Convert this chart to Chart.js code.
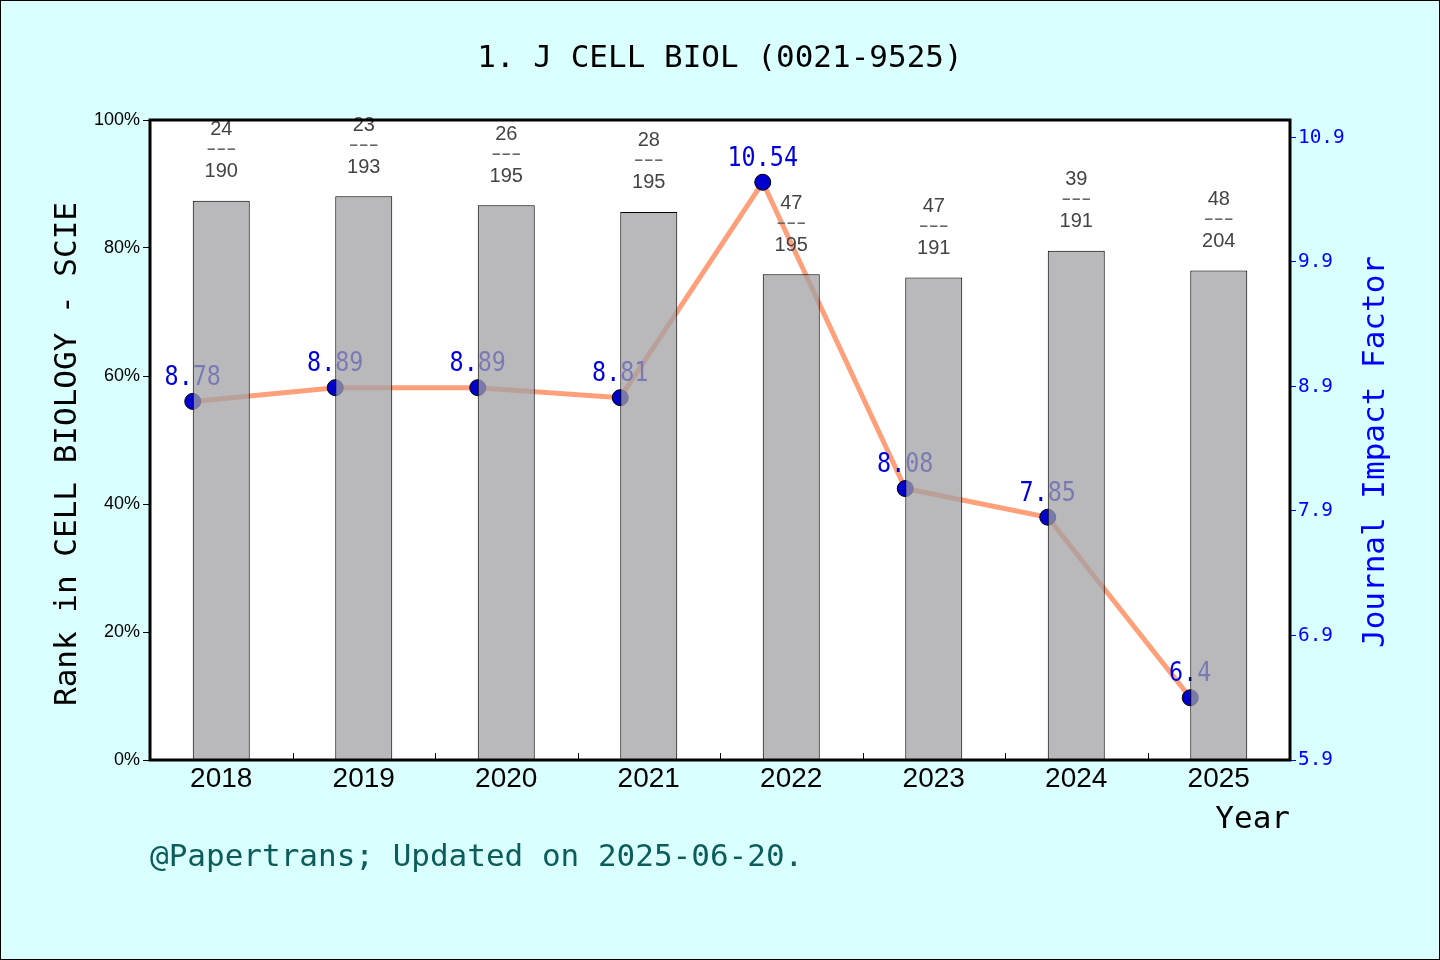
<!DOCTYPE html>
<html><head><meta charset="utf-8">
<script src="https://cdn.jsdelivr.net/npm/chart.js@4.4.1/dist/chart.umd.min.js"></script>
<style>
html,body{margin:0;padding:0;background:#d9ffff;}
#wrap{width:1440px;height:960px;position:relative;}
canvas{display:block;}
</style>
</head><body>
<div id="wrap"><canvas id="c" width="1440" height="960"></canvas></div>
<script>
// ---- data ----
const years = ['2018','2019','2020','2021','2022','2023','2024','2025'];
const ranks = [24, 23, 26, 28, 47, 47, 39, 48];
const totals = [190, 193, 195, 195, 195, 191, 191, 204];
const impactFactors = [8.78, 8.89, 8.89, 8.81, 10.54, 8.08, 7.85, 6.4];
const rankPercentTicks = [0, 20, 40, 60, 80, 100];
const ifTicks = [5.9, 6.9, 7.9, 8.9, 9.9, 10.9];
const titleText = '1. J CELL BIOL (0021-9525)';
const leftTitle = 'Rank in CELL BIOLOGY - SCIE';
const rightTitle = 'Journal Impact Factor';
const xTitle = 'Year';
const footerText = '@Papertrans; Updated on 2025-06-20.';

const rankPercent = ranks.map((r, i) => (1 - r / totals[i]) * 100);
const ifPoints = impactFactors.map((v, i) => ({x: i - 0.2, y: v}));

function txt(ctx, s, x, y, font, color, align, sx, rot) {
  ctx.save();
  ctx.translate(x, y);
  if (rot) ctx.rotate(rot);
  ctx.scale(sx || 1, 1);
  ctx.font = font;
  ctx.fillStyle = color;
  ctx.textAlign = align || 'center';
  ctx.textBaseline = 'middle';
  ctx.fillText(s, 0, 0);
  ctx.restore();
}

const decor = {
  id: 'decor',
  beforeDraw(chart) {
    const ctx = chart.ctx, a = chart.chartArea;
    ctx.save();
    ctx.fillStyle = '#d9ffff';
    ctx.fillRect(0, 0, chart.width, chart.height);
    ctx.strokeStyle = '#000';
    ctx.lineWidth = 1;
    ctx.strokeRect(0.5, 0.5, chart.width - 1, chart.height - 1);
    ctx.fillStyle = '#ffffff';
    ctx.fillRect(a.left, a.top, a.right - a.left, a.bottom - a.top);
    ctx.restore();
  },
  afterDatasetDraw(chart, args) {
    if (args.index !== 1) return;
    const ctx = chart.ctx;
    const meta = chart.getDatasetMeta(1);
    meta.data.forEach((p, i) => {
      txt(ctx, String(impactFactors[i]), p.x, p.y - 23,
          '26px "DejaVu Sans Mono"', '#0000dd', 'center', 0.9);
    });
  },
  afterDraw(chart) {
    const ctx = chart.ctx, a = chart.chartArea;
    const meta = chart.getDatasetMeta(0);
    // rank labels above bars
    meta.data.forEach((b, i) => {
      txt(ctx, String(ranks[i]), b.x, b.y - 71, '20px "Liberation Sans"', '#444', 'center');
      txt(ctx, '---', b.x, b.y - 51, '20px "Liberation Sans"', '#666', 'center', 1.5);
      txt(ctx, String(totals[i]), b.x, b.y - 29, '20px "Liberation Sans"', '#444', 'center');
    });
    // inner ticks at category boundaries
    const xs = chart.scales.x;
    ctx.save();
    ctx.strokeStyle = '#000';
    ctx.lineWidth = 1;
    for (let i = 1; i < years.length; i++) {
      const bx = Math.round((xs.getPixelForValue(i - 1) + xs.getPixelForValue(i)) / 2) + 0.5;
      ctx.beginPath();
      ctx.moveTo(bx, a.bottom);
      ctx.lineTo(bx, a.bottom - 7);
      ctx.stroke();
    }
    // frame
    ctx.lineWidth = 3;
    ctx.strokeRect(a.left, a.top, a.right - a.left, a.bottom - a.top);
    ctx.restore();
    // right tick labels
    const y2 = chart.scales.y2;
    ifTicks.forEach(v => {
      txt(ctx, v.toFixed(1), a.right + 8, y2.getPixelForValue(v), '20px "DejaVu Sans Mono"', '#0000ff', 'left', 0.97);
    });
    // titles
    txt(ctx, titleText, 720, 59, '31px "DejaVu Sans Mono"', '#000', 'center');
    txt(ctx, leftTitle, 68, 454, '31px "DejaVu Sans Mono"', '#000', 'center', 1, -Math.PI / 2);
    txt(ctx, rightTitle, 1376, 452, '31px "DejaVu Sans Mono"', '#0000ff', 'center', 1, -Math.PI / 2);
    txt(ctx, xTitle, 1290, 820, '31px "DejaVu Sans Mono"', '#000', 'right');
    txt(ctx, footerText, 150, 858, '31px "DejaVu Sans Mono"', '#0b5c5a', 'left');
  }
};

new Chart(document.getElementById('c'), {
  type: 'bar',
  data: {
    labels: years,
    datasets: [
      {
        type: 'bar',
        data: rankPercent,
        xAxisID: 'x',
        yAxisID: 'y',
        backgroundColor: 'rgba(161,161,165,0.75)',
        borderColor: '#000',
        borderWidth: 1,
        barPercentage: 0.4,
        categoryPercentage: 1,
        grouped: false,
        order: 1
      },
      {
        type: 'line',
        data: ifPoints,
        xAxisID: 'xl',
        yAxisID: 'y2',
        borderColor: '#ffa07a',
        borderWidth: 5,
        tension: 0,
        pointRadius: 8,
        pointBackgroundColor: '#0000cd',
        pointBorderColor: '#000',
        pointBorderWidth: 1,
        order: 2
      }
    ]
  },
  options: {
    responsive: false,
    animation: false,
    devicePixelRatio: 1,
    layout: {padding: {top: 120, left: 0, right: 0, bottom: 0}},
    plugins: {legend: {display: false}, tooltip: {enabled: false}},
    scales: {
      x: {
        type: 'category',
        position: 'bottom',
        offset: true,
        grid: {display: false, drawTicks: false},
        border: {display: false},
        ticks: {font: {family: 'Liberation Sans', size: 28}, color: '#000', padding: 2, maxRotation: 0},
        afterFit: s => { s.height = 200; }
      },
      xl: {
        type: 'linear',
        display: false,
        offset: false,
        min: -0.5,
        max: years.length - 0.5
      },
      y: {
        position: 'left',
        min: 0,
        max: 100,
        afterBuildTicks: s => { s.ticks = rankPercentTicks.map(v => ({value: v})); },
        ticks: {callback: v => v + '%', font: {family: 'Liberation Sans', size: 18}, color: '#000', padding: 3},
        grid: {drawOnChartArea: false, drawTicks: true, tickLength: 7, color: '#000', lineWidth: 1},
        border: {display: false},
        afterFit: s => { s.width = 150; }
      },
      y2: {
        position: 'right',
        min: Math.min(...impactFactors) - 0.5,
        max: Math.max(...impactFactors) + 0.5,
        afterBuildTicks: s => { s.ticks = ifTicks.map(v => ({value: v})); },
        ticks: {display: false},
        grid: {drawOnChartArea: false, drawTicks: true, tickLength: 6, color: '#0000ff', lineWidth: 1},
        border: {display: false},
        afterFit: s => { s.width = 150; }
      }
    }
  },
  plugins: [decor]
});
</script>
</body></html>
